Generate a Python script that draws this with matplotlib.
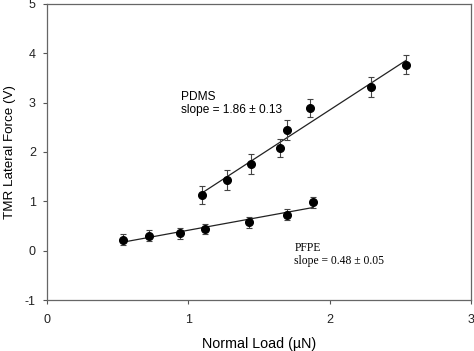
import matplotlib
matplotlib.use("Agg")
import matplotlib.pyplot as plt
import numpy as np

# PDMS data
pdms_x = [1.10, 1.27, 1.44, 1.65, 1.70, 1.86, 2.29, 2.54]
pdms_y = [1.13, 1.44, 1.75, 2.08, 2.44, 2.89, 3.31, 3.77]
pdms_err = [0.19, 0.20, 0.20, 0.19, 0.20, 0.19, 0.20, 0.19]

# PFPE data
pfpe_x = [0.54, 0.72, 0.94, 1.12, 1.43, 1.70, 1.88]
pfpe_y = [0.22, 0.30, 0.35, 0.44, 0.58, 0.73, 0.98]
pfpe_err = [0.11, 0.11, 0.11, 0.11, 0.11, 0.11, 0.11]

x_ticks = [0, 1, 2, 3]
y_ticks = [-1, 0, 1, 2, 3, 4, 5]

plt.rcParams['font.family'] = ['Liberation Sans', 'DejaVu Sans']
plt.rcParams['axes.unicode_minus'] = False

fig = plt.figure(figsize=(4.74, 3.51), dpi=100)
ax = fig.add_axes([0.099, 0.145, 0.895, 0.844])

for xs, ys, es in [(pdms_x, pdms_y, pdms_err), (pfpe_x, pfpe_y, pfpe_err)]:
	ax.errorbar(xs, ys, yerr=es, fmt='none', ecolor='#444444', elinewidth=0.8, capsize=2, capthick=0.8, zorder=2)
	k, b = np.polyfit(xs, ys, 1)
	fx = np.array([min(xs), max(xs)])
	ax.plot(fx, k*fx + b, color='#222222', lw=0.9, zorder=1)
	ax.plot(xs, ys, 'o', color='black', markersize=5.5, zorder=3)

ax.text(0.945, 3.24, 'PDMS\nslope = 1.86 \u00b1 0.13', fontsize=8.6, va='top', ha='left', linespacing=1.15)
ax.text(1.75, 0.18, 'PFPE\nslope = 0.48 \u00b1 0.05', fontsize=8.4, va='top', ha='left',
	family=['Liberation Serif', 'DejaVu Serif'], linespacing=1.15)

ax.set_xlim(0, 3)
ax.set_ylim(-1, 5)
ax.set_xticks(x_ticks)
ax.set_yticks(y_ticks)
ax.tick_params(direction='out', length=3, width=0.8, labelsize=9, color='#555555', labelcolor='#222222')
ax.tick_params(axis='y', pad=5)
ax.tick_params(axis='x', pad=7)
for s in ax.spines.values():
	s.set_color('#666666')
	s.set_linewidth(0.9)
ax.set_xlabel('Normal Load (\u00b5N)', fontsize=10.3, labelpad=8)
ax.set_ylabel('TMR Lateral Force (V)', fontsize=9.6, va='center')
ax.yaxis.set_label_coords(-0.086, 0.5)

fig.savefig('out.png', dpi=100)
